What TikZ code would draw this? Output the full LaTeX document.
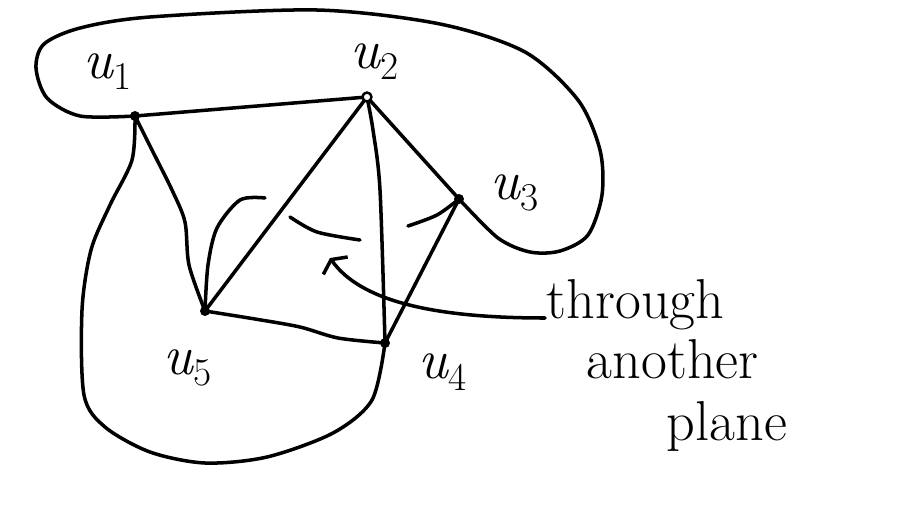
\documentclass[tikz,border=0pt]{standalone}
\usetikzlibrary{arrows.meta}

\begin{document}
\begin{tikzpicture}[
            x=0.02cm, y=-0.02cm,
            line width=2pt, line cap=round, line join=round,
            vertex/.style={ circle, fill, inner sep=0pt, minimum size=0.2cm },
            hollow/.style={ circle, draw, fill=white, line width=1.4pt, inner sep=0pt, minimum size=0.18cm },
            lbl/.style={ font=\fontsize{32}{36}\selectfont\itshape },
            hand/.style={ font=\fontsize{32}{36}\selectfont, anchor=base west, inner sep=0pt }
        ]
        \useasboundingbox (0,0) rectangle (917,528);

        % edges first, vertices on top
        \coordinate (u1p) at (135,116);
        \coordinate (u2p) at (367,97);
        \coordinate (u3p) at (459,199);
        \coordinate (u4p) at (385,343);
        \coordinate (u5p) at (205,311);

        \draw (u1p) -- (u2p);
        \draw (u2p) -- (u5p);
        \draw (u2p) -- (u3p);
        \draw (u3p) -- (u4p);
        \draw plot[smooth] coordinates {(u2p) (373,130) (380,190) (u4p)};
        \draw plot[smooth] coordinates {(u5p) (255,319) (300,327) (338,338) (u4p)};
        \draw plot[smooth] coordinates {(u1p) (152,150) (172,190) (185,222) (189,265) (u5p)};

        % u1 -- u3 round the top
        \draw plot[smooth] coordinates {(u1p) (80,116) (47,98) (36,68) (44,44) (80,28) (150,17)
            (317,10) (440,24) (525,52) (578,100) (600,150) (602,195) (588,235)
            (560,251) (530,252) (498,238) (u3p)};

        % u1 -- u4 round the bottom
        \draw plot[smooth] coordinates {(u1p) (132,160) (110,205) (91,250) (82,310) (84,395)
            (105,427) (150,452) (205,463) (267,457) (333,433) (372,400) (u4p)};

        % u5 -- u3, broken where it passes through
        \coordinate (c1) at (265,198);
        \coordinate (c2) at (290,217);
        \coordinate (c3) at (360,240);
        \coordinate (c4) at (408,226);
        \draw plot[smooth] coordinates {(u5p) (208,265) (217,228) (240,200) (c1)};
        \draw plot[smooth] coordinates {(c2) (317,232) (c3)};
        \draw plot[smooth] coordinates {(c4) (437,215) (u3p)};

        \node[vertex] (u1) at (u1p) {};
        \node[hollow] (u2) at (u2p) {};
        \node[vertex] (u3) at (u3p) {};
        \node[vertex] (u4) at (u4p) {};
        \node[vertex] (u5) at (u5p) {};

        \node[lbl] (l1) at (108,72) {u\textsubscript{\upshape 1}};
        \node[lbl] (l2) at (375,62) {u\textsubscript{\upshape 2}};
        \node[lbl] (l3) at (515,193) {u\textsubscript{\upshape 3}};
        \node[lbl] (l4) at (443,372) {u\textsubscript{\upshape 4}};
        \node[lbl] (l5) at (188,368) {u\textsubscript{\upshape 5}};

        \node[hand] (thr) at (545,318) {through};
        \node[hand] (ano) at (585,378) {another};
        \node[hand] (pla) at (665,440) {plane};

        \coordinate (tip) at (330,258);
        \draw[-{Straight Barb[length=0.15cm,width=0.6cm]}] (thr.base west) .. controls (430,318) and (360,300) .. (tip);
    \end{tikzpicture}
\end{document}
